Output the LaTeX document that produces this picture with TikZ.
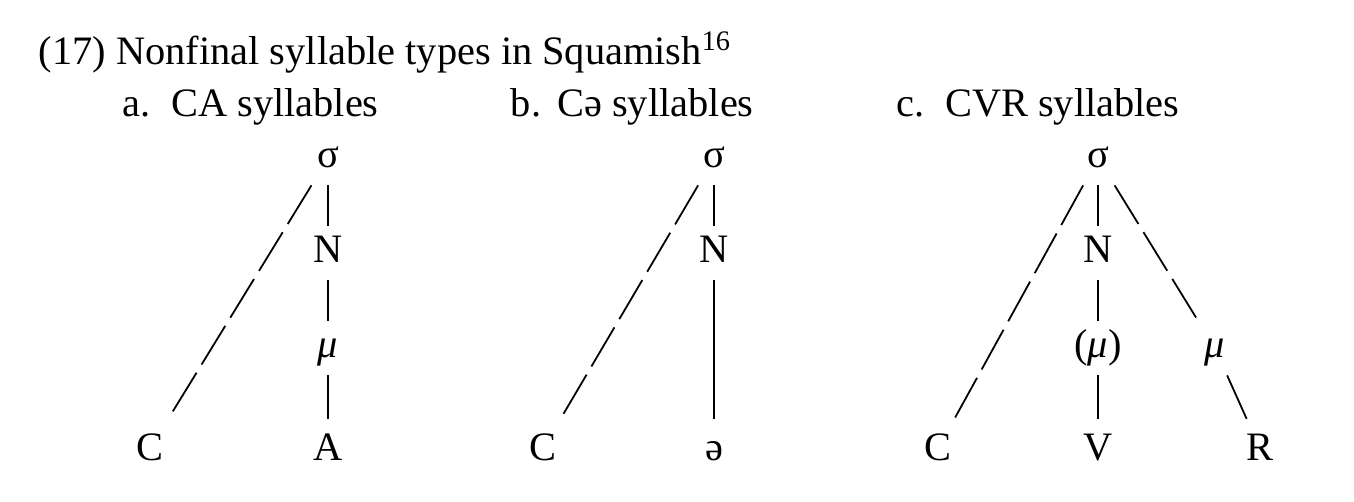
\documentclass[tikz,border=0pt]{standalone}
\usepackage{fontspec}
\setmainfont{Liberation Serif}
\begin{document}
\begin{tikzpicture}[x=0.364pt,y=-0.364pt,line width=0.65pt,
  every node/.style={font=\fontsize{14.7}{17}\selectfont},
  head/.style={anchor=base west,inner sep=0pt},
  seg/.style={anchor=base,inner sep=3pt,text height=10pt,text depth=3pt},
  leaf/.style={seg,text height=12pt},
  loose/.style={dash pattern=on 16.5pt off 3.5pt}]
  \useasboundingbox (0,0) rectangle (1354,502);
  \node[head] (title) at (38,65) {(17) Nonfinal syllable types in Squamish\textsuperscript{16}};
  \node[head] (heada) at (122,117) {a.\hspace{0.5em}CA syllables};
  \node[head] (headb) at (510,117) {b.\hspace{0.4em}Cə syllables};
  \node[head] (headc) at (896,117) {c.\hspace{0.5em}CVR syllables};
  % a. CA
  \node[seg] (sa) at (328,168) {σ};
  \node[seg] (na) at (328,263) {N};
  \node[seg] (ma) at (328,358) {\itshape μ};
  \node[leaf] (ca) at (150,461) {C};
  \node[leaf] (aa) at (328,461) {A};
  \draw (sa) -- (na);
  \draw (na) -- (ma);
  \draw (ma) -- (aa);
  \draw[loose] (sa) -- (ca);
  % b. C schwa
  \node[seg] (sb) at (714,168) {σ};
  \node[seg] (nb) at (714,263) {N};
  \node[leaf] (cb) at (543,461) {C};
  \node[leaf] (eb) at (714,461) {ə};
  \draw (sb) -- (nb);
  \draw (nb) -- (eb);
  \draw[loose] (sb) -- (cb);
  % c. CVR
  \node[seg] (sc) at (1098,168) {σ};
  \node[seg] (nc) at (1098,263) {N};
  \node[seg] (mc) at (1098,358) {(\itshape μ\upshape)};
  \node[seg] (mr) at (1215,358) {\itshape μ};
  \node[leaf] (cc) at (938,461) {C};
  \node[leaf] (vc) at (1098,461) {V};
  \node[leaf] (rc) at (1260,461) {R};
  \draw (sc) -- (nc);
  \draw (nc) -- (mc);
  \draw (mc) -- (vc);
  \draw (mr) -- (rc);
  \draw[loose] (sc) -- (cc);
  \draw[loose] (sc) -- (mr);
\end{tikzpicture}
\end{document}
